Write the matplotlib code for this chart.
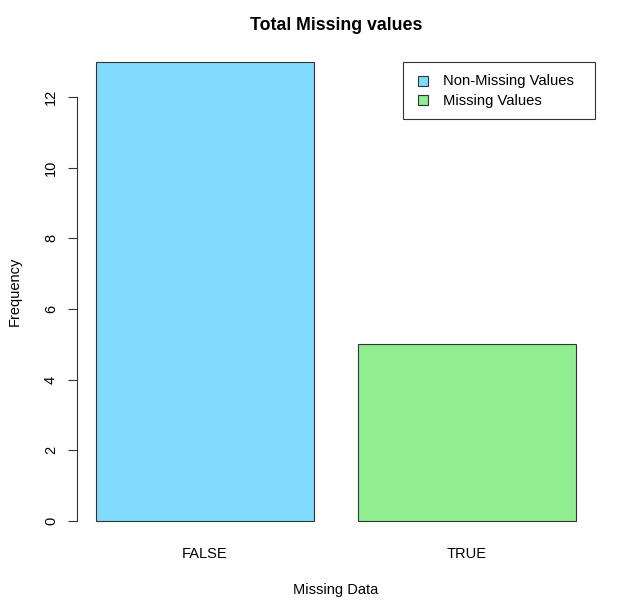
import matplotlib
matplotlib.use("Agg")
import matplotlib.pyplot as plt
from matplotlib.patches import Rectangle

categories = ["FALSE", "TRUE"]
counts = [13, 5]
bar_colors = ["#80DBFF", "#90EE90"]
legend_labels = ["Non-Missing Values", "Missing Values"]
yticks = [0, 2, 4, 6, 8, 10, 12]

plt.rcParams['font.family'] = ['Liberation Sans', 'DejaVu Sans']

W, H = 632, 606
fig = plt.figure(figsize=(W / 100, H / 100), dpi=100)
left, right, top, bottom = 76.8, 594.8, 43.3, 539.4
ax = fig.add_axes([left / W, (H - bottom) / H, (right - left) / W, (bottom - top) / H])

# R barplot geometry: width 1, space 0.2
xs = [0.2 + 1.2 * i + 0.5 for i in range(len(categories))]
ax.bar(xs, counts, width=1.0, color=bar_colors, edgecolor="#333333", linewidth=0.8)
ax.set_xlim(0.112, 2.488)
ax.set_ylim(-0.52, 13.52)

for s in ["top", "right", "bottom"]:
    ax.spines[s].set_visible(False)
ax.spines["left"].set_bounds(0, 12)
ax.spines["left"].set_linewidth(0.8)
ax.spines["left"].set_color("#333333")

ax.set_yticks(yticks)
ax.set_yticklabels([str(v) for v in yticks], rotation=90, va="center", fontsize=10.5)
ax.tick_params(axis="y", length=6.5, width=0.8, color="#333333", pad=7)
ax.set_xticks(xs)
ax.set_xticklabels(categories, fontsize=10.5)
ax.tick_params(axis="x", length=0, pad=5.5)

ax.set_ylabel("Frequency", fontsize=10.5, va="center")
ax.yaxis.set_label_coords((15 - left) / (right - left), 0.5)
ax.set_xlabel("Missing Data", fontsize=10.5, va="center")
ax.xaxis.set_label_coords(0.5, (bottom - 590) / (bottom - top))

ax.text(0.5, (bottom - 25.5) / (bottom - top), "Total Missing values", transform=ax.transAxes,
        ha="center", va="center", fontsize=12.8, fontweight="bold")

# legend drawn in pixel coordinates (converted to figure fraction)
def fx(px):
    return px / W

def fy(py):
    return (H - py) / H

fig.patches.append(Rectangle((fx(403), fy(119)), fx(595) - fx(403), fy(62) - fy(119),
                             transform=fig.transFigure, fill=False, edgecolor="#333333",
                             linewidth=0.8))
rows = [81, 100]
for lab, col, ry in zip(legend_labels, bar_colors, rows):
    fig.patches.append(Rectangle((fx(418), fy(ry + 5)), fx(428) - fx(418), fy(ry - 5) - fy(ry + 5),
                                 transform=fig.transFigure, facecolor=col, edgecolor="#333333",
                                 linewidth=0.8))
    fig.text(fx(443), fy(ry + 0.5), lab, ha="left", va="center", fontsize=10.6)

fig.savefig("out.png", dpi=100, facecolor="white")
